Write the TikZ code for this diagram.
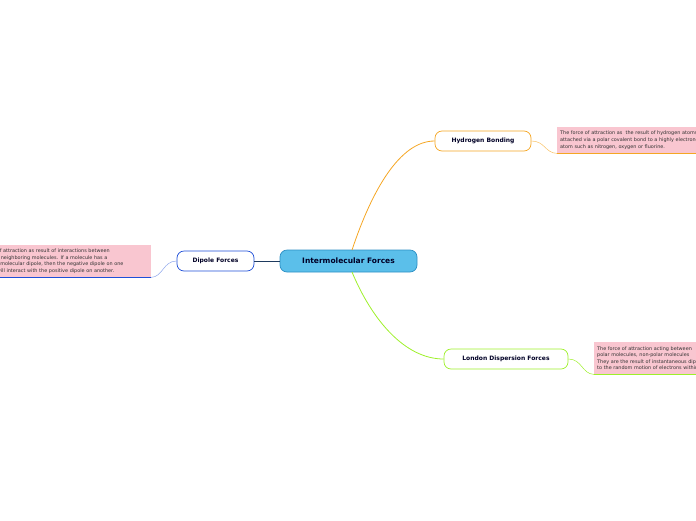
\documentclass[tikz,border=0pt]{standalone}
\usepackage{fontspec}
\setmainfont{DejaVu Sans}
\definecolor{pinkbox}{HTML}{F9C6D0}
\definecolor{centfill}{HTML}{5BBFEA}
\definecolor{centdraw}{HTML}{2C8FC4}
\definecolor{orng}{HTML}{F5A623}
\definecolor{grn}{HTML}{9EF02A}
\definecolor{blu}{HTML}{1F4FD8}
\definecolor{navy}{HTML}{1E3A5F}
\begin{document}
\begin{tikzpicture}[x=1pt,y=-1pt,
  topic/.style={draw,rounded corners=7pt,fill=white,line width=0.7pt,font=\fontsize{6}{7}\selectfont\bfseries,text=black!85!blue},
  note/.style={fill=pinkbox,anchor=north west,inner sep=3pt,align=left,font=\fontsize{4.9}{6.6}\selectfont,text=black!80},
]
\useasboundingbox (0,0) rectangle (696,520);
\clip (0,0) rectangle (696,520);
\node[draw=centdraw,fill=centfill,rounded corners=7pt,line width=0.7pt,minimum width=137pt,minimum height=22pt,font=\fontsize{7.5}{9}\selectfont\bfseries,text=black!85!blue] (c) at (348.5,261) {Intermolecular Forces};
\node[topic,draw=orng,minimum width=96pt,minimum height=20pt] (h) at (483,141) {Hydrogen Bonding};
\node[topic,draw=blu,minimum width=77pt,minimum height=20pt] (d) at (215.5,261) {Dipole Forces};
\node[topic,draw=grn,minimum width=124pt,minimum height=20pt] (l) at (506,359) {London Dispersion Forces};
% notes
\node[note,minimum height=26pt,text width=200pt] (hn) at (557,127) {The force of attraction as\ \ the result of hydrogen atoms\\attached via a polar covalent bond to a highly electronegative\\atom such as nitrogen, oxygen or fluorine.};
\draw[orng,line width=0.8pt] (hn.south west) -- ++(150,0);
\node[note,minimum height=32pt,text width=151pt,anchor=north east] (dn) at (151,245) {of attraction as result of interactions between\\. neighboring molecules. If a molecule has a\\t molecular dipole, then the negative dipole on one\\will interact with the positive dipole on another.};
\draw[blu,line width=0.8pt] (dn.south east) -- ++(-160,0);
\node[note,minimum height=32pt,text width=200pt] (ln) at (594,342) {The force of attraction acting between\\polar molecules, non-polar molecules\\They are the result of instantaneous dipoles due\\to the random motion of electrons within};
\draw[grn,line width=0.8pt] (ln.south west) -- ++(120,0);
% connectors
\draw[orng,line width=0.8pt] (352,250) .. controls (372,190) and (400,141) .. (h.west);
\draw[grn,line width=0.8pt] (352,272) .. controls (372,320) and (405,359) .. (l.west);
\draw[navy,line width=0.6pt] (c.west) -- (d.east);
\draw[orng!70,line width=0.5pt] (h.east) .. controls (545,141) and (545,153) .. (hn.south west);
\draw[blu!50,line width=0.5pt] (d.west) .. controls (163,261) and (163,277) .. (dn.south east);
\draw[grn,line width=0.5pt] (l.east) .. controls (582,359) and (582,374) .. (ln.south west);
\end{tikzpicture}
\end{document}
